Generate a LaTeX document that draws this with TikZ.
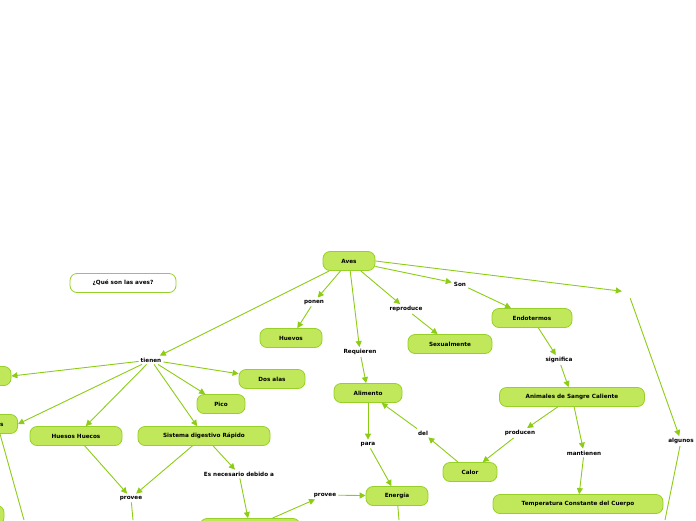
\documentclass[tikz,border=0pt]{standalone}
\usepackage{fontspec}
\setmainfont{DejaVu Sans}
\usetikzlibrary{arrows.meta}
\definecolor{ln}{RGB}{140,204,20}
\definecolor{bx}{RGB}{192,232,90}
\definecolor{bd}{RGB}{150,208,40}
\begin{document}
\begin{tikzpicture}[x=1pt,y=-1pt,
 every node/.style={font=\fontsize{5.7}{6.5}\selectfont\bfseries},
 box/.style={draw=bd,fill=bx,rounded corners=7pt,minimum height=19pt,line width=0.8pt},
 lbl/.style={inner sep=2pt},
 ar/.style={draw=ln,line width=0.9pt,-{Triangle[length=6pt,width=6pt]}},
 pl/.style={draw=ln,line width=0.9pt}]
\useasboundingbox (0,0) rectangle (696,520);
\clip (0,0) rectangle (696,520);
\node[box,minimum width=52pt] (aves) at (349,261) {Aves};
\node[box,fill=white,minimum width=106pt] (q) at (123,283) {¿Qué son las aves?};
\node[lbl] (ponen) at (314,302) {ponen};
\node[box,minimum width=62pt] (huevos) at (291,338) {Huevos};
\node[lbl] (tienen) at (151,360) {tienen};
\node[box,minimum width=66pt] (dosalas) at (272,379) {Dos alas};
\node[box,minimum width=48pt] (pico) at (221,404) {Pico};
\node[box,minimum width=42pt] (l1) at (-10,376) {};
\node[box,inner xsep=14pt,anchor=east] (l2) at (18,424) {Plumas};
\node[box,minimum width=40pt] (l3) at (-16,515) {};
\node[box,minimum width=92pt] (hh) at (76,436) {Huesos Huecos};
\node[box,minimum width=132pt] (sd) at (204,436) {Sistema digestivo Rápido};
\node[lbl] (req) at (360,352) {Requieren};
\node[box,minimum width=68pt] (alim) at (368,393) {Alimento};
\node[lbl] (rep) at (406,309) {reproduce};
\node[box,minimum width=84pt] (sex) at (450,344) {Sexualmente};
\node[lbl] (son) at (460,284) {Son};
\node[box,minimum width=80pt] (endo) at (532,318) {Endotermos};
\node[lbl] (sig) at (559,360) {significa};
\node[box,minimum width=145pt] (asc) at (572,397) {Animales de Sangre Caliente};
\node[lbl] (prod) at (520,433) {producen};
\node[lbl] (mant) at (584,453) {mantienen};
\node[box,minimum width=170pt] (temp) at (578,504) {Temperatura Constante del Cuerpo};
\node[box,minimum width=54pt] (calor) at (470,472) {Calor};
\node[lbl] (del) at (423,433) {del};
\node[lbl] (para) at (368,444) {para};
\node[box,minimum width=62pt] (ener) at (397,496) {Energía};
\node[lbl] (prov2) at (325,495) {provee};
\node[lbl] (prov1) at (131,498) {provee};
\node[lbl] (esn) at (239,474) {Es necesario debido a};
\node[lbl] (alg) at (681,441) {algunos};
\node[box,minimum width=100pt] (bot) at (250,528) {};
\node[minimum size=12pt,inner sep=0pt] (hid) at (628,292) {};
\coordinate (e1) at (24,520);
\coordinate (e2) at (133,520);
\coordinate (e3) at (399,520);
\coordinate (e4) at (665,520);
\draw[ar] (aves) -- (ponen);
\draw[ar] (ponen) -- (huevos);
\draw[ar] (aves) -- (tienen);
\draw[ar] (aves) -- (req);
\draw[ar] (aves) -- (rep);
\draw[ar] (aves) -- (son);
\draw[ar] (aves.east) -- (hid);
\draw[ar] (hid) -- (alg);
\draw[ar] (tienen) -- (dosalas);
\draw[ar] (tienen) -- (pico);
\draw[ar] (tienen) -- (l1.east);
\draw[ar] (tienen) -- (l2.east);
\draw[ar] (tienen) -- (hh);
\draw[ar] (tienen) -- (sd);
\draw[ar] (hh) -- (prov1);
\draw[ar] (sd) -- (prov1);
\draw[ar] (sd) -- (esn);
\draw[ar] (esn) -- (bot);
\draw[ar] (bot) -- (prov2);
\draw[ar] (prov2) -- (ener);
\draw[ar] (req) -- (alim);
\draw[ar] (alim) -- (para);
\draw[ar] (para) -- (ener);
\draw[ar] (del) -- (alim);
\draw[ar] (calor) -- (del);
\draw[ar] (rep) -- (sex);
\draw[ar] (son) -- (endo);
\draw[ar] (endo) -- (sig);
\draw[ar] (sig) -- (asc);
\draw[ar] (asc) -- (prod);
\draw[ar] (asc) -- (mant);
\draw[ar] (prod) -- (calor);
\draw[ar] (mant) -- (temp);
\draw[pl] (l2.south east) ++(-18,0) -- (e1);
\draw[pl] (prov1) -- (e2);
\draw[pl] (ener) -- (e3);
\draw[pl] (alg) -- (e4);
\end{tikzpicture}
\end{document}
